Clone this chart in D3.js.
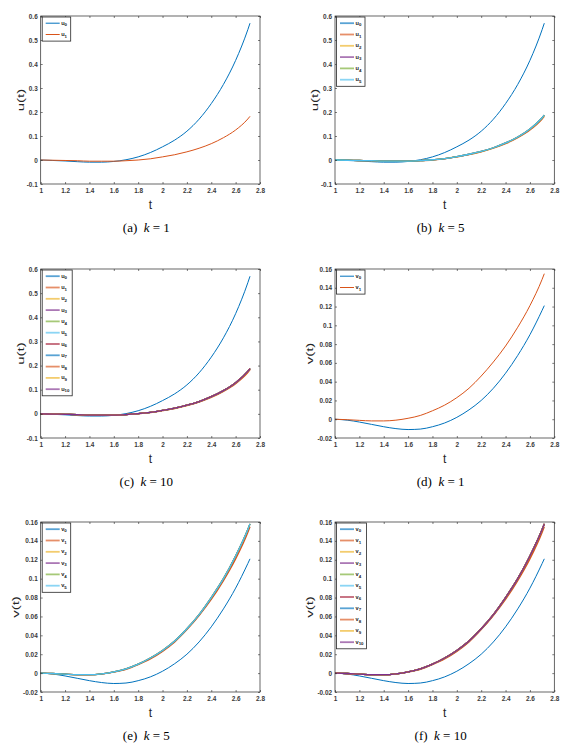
<!DOCTYPE html>
<html>
<head>
<meta charset="utf-8">
<script src="https://cdn.jsdelivr.net/npm/d3@7"></script>
<style>
  body { margin: 0; background: #fff; }
  svg { display: block; }
  .tick text { font-family: "Liberation Sans", Arial, sans-serif; font-size: 6.4px; font-weight: bold; fill: #3a3a3a; }
  .tick line { stroke: #262626; stroke-width: 0.6; }
  .lab { font-family: "Liberation Sans", Arial, sans-serif; font-size: 12px; fill: #262626; }
  .ylab { font-family: "Liberation Sans", Arial, sans-serif; font-size: 15px; fill: #262626; }
  .cap { font-family: "Liberation Serif", "DejaVu Serif", serif; font-size: 13px; fill: #000; }
  .leg { font-family: "Liberation Sans", Arial, sans-serif; font-size: 5.6px; font-weight: bold; fill: #222; }
</style>
</head>
<body>
<svg id="fig" width="569" height="751"></svg>
<script>
// t grid (1 .. e)
const T = [1.0, 1.1, 1.2, 1.3, 1.4, 1.5, 1.6, 1.7, 1.8, 1.9, 2.0, 2.1, 2.2, 2.3, 2.4, 2.5, 2.6, 2.7, 2.718];

// u iterates
const u0 = [0, -0.002, -0.004, -0.007, -0.009, -0.009, -0.006, 0.001, 0.013, 0.031, 0.055, 0.083, 0.120, 0.170, 0.235, 0.315, 0.415, 0.543, 0.570];
const u1 = [0, -0.001, -0.002, -0.003, -0.005, -0.005, -0.005, -0.003, 0.000, 0.005, 0.013, 0.022, 0.034, 0.049, 0.068, 0.093, 0.125, 0.171, 0.182];
const u2 = [0, -0.001, -0.002, -0.003, -0.005, -0.005, -0.005, -0.003, 0.001, 0.006, 0.014, 0.023, 0.035, 0.050, 0.070, 0.095, 0.128, 0.174, 0.185];
const uK = [0, -0.001, -0.002, -0.003, -0.005, -0.005, -0.005, -0.003, 0.001, 0.006, 0.014, 0.024, 0.036, 0.051, 0.071, 0.096, 0.129, 0.176, 0.187];
const U_SERIES = [u0, u1, u2, uK, uK, uK, uK, uK, uK, uK, uK];

// v iterates
const v0 = [0, -0.001, -0.003, -0.0055, -0.008, -0.010, -0.011, -0.0105, -0.008, -0.004, 0.002, 0.010, 0.020, 0.033, 0.049, 0.068, 0.090, 0.116, 0.121];
const v1 = [0, -0.0005, -0.0012, -0.0018, -0.0018, -0.001, 0.001, 0.004, 0.009, 0.015, 0.023, 0.033, 0.046, 0.061, 0.078, 0.098, 0.121, 0.149, 0.155];
const vK = [0, -0.0004, -0.0011, -0.0017, -0.0017, -0.0008, 0.0013, 0.0045, 0.0095, 0.016, 0.024, 0.034, 0.047, 0.062, 0.080, 0.100, 0.124, 0.152, 0.158];
const V_SERIES = [v0, v1, vK, vK, vK, vK, vK, vK, vK, vK, vK];

const T_TICKS = [1, 1.2, 1.4, 1.6, 1.8, 2, 2.2, 2.4, 2.6, 2.8];
const U_TICKS = [-0.1, 0, 0.1, 0.2, 0.3, 0.4, 0.5, 0.6];
const V_TICKS = [-0.02, 0, 0.02, 0.04, 0.06, 0.08, 0.1, 0.12, 0.14, 0.16];

const PANELS = [
  { tag: "(a)", k: 1, name: "u" },
  { tag: "(b)", k: 5, name: "u" },
  { tag: "(c)", k: 10, name: "u" },
  { tag: "(d)", k: 1, name: "v" },
  { tag: "(e)", k: 5, name: "v" },
  { tag: "(f)", k: 10, name: "v" },
];

const COLORS = ["#0072BD", "#D95319", "#EDB120", "#7E2F8E", "#77AC30", "#4DBEEE", "#A2142F"];

const svg = d3.select("#fig");
const fmt = d => String(+d.toFixed(2));

const colX = [40.7, 335];
const rowY = [[16, 184], [269, 438], [522, 692]];
const plotW = 219.3;

PANELS.forEach((p, i) => {
  const left = colX[i % 2];
  const [top, bottom] = rowY[Math.floor(i / 2)];
  const series = p.name === "u" ? U_SERIES : V_SERIES;
  const yTicks = p.name === "u" ? U_TICKS : V_TICKS;

  const x = d3.scaleLinear().domain([1, 2.8]).range([left, left + plotW]);
  const y = d3.scaleLinear().domain(d3.extent(yTicks)).range([bottom, top]);

  const g = svg.append("g");

  // lines
  const line = d3.line()
    .x((d, j) => x(T[j]))
    .y(d => y(d))
    .curve(d3.curveMonotoneX);

  const shown = series.slice(0, p.k + 1);
  g.selectAll("path.series")
    .data(shown)
    .enter()
    .append("path")
    .attr("class", "series")
    .attr("fill", "none")
    .attr("stroke", (d, j) => COLORS[j % 7])
    .attr("stroke-width", (d, j) => (j === 0 || p.k === 1) ? 1 : 1.3)
    .attr("d", line);

  // axes, ticks pointing inwards
  g.append("g")
    .attr("transform", `translate(0,${bottom})`)
    .call(d3.axisBottom(x).tickValues(T_TICKS).tickSize(-2).tickPadding(4).tickFormat(fmt))
    .call(a => a.select(".domain").remove());
  g.append("g")
    .attr("transform", `translate(0,${top})`)
    .call(d3.axisTop(x).tickValues(T_TICKS).tickSize(-2).tickFormat(""))
    .call(a => a.select(".domain").remove());
  g.append("g")
    .attr("transform", `translate(${left},0)`)
    .call(d3.axisLeft(y).tickValues(yTicks).tickSize(-2).tickPadding(3).tickFormat(fmt))
    .call(a => a.select(".domain").remove());
  g.append("g")
    .attr("transform", `translate(${left + plotW},0)`)
    .call(d3.axisRight(y).tickValues(yTicks).tickSize(-2).tickFormat(""))
    .call(a => a.select(".domain").remove());

  g.append("rect")
    .attr("x", left).attr("y", top)
    .attr("width", plotW).attr("height", bottom - top)
    .attr("fill", "none").attr("stroke", "#262626").attr("stroke-width", 0.7);

  // axis labels
  g.append("text").attr("class", "lab")
    .attr("x", left + plotW / 2).attr("y", bottom + 25)
    .attr("text-anchor", "middle").text("t");
  const ylx = p.name === "u" ? left - 20 : left - 25;
  g.append("text").attr("class", "ylab")
    .attr("transform", `translate(${ylx},${(top + bottom) / 2}) scale(0.62,1) rotate(-90)`)
    .attr("text-anchor", "middle").attr("dy", "0.35em").text(`${p.name}(t)`);

  // caption
  const cap = g.append("text").attr("class", "cap")
    .attr("x", left + plotW / 2 - 4).attr("y", bottom + 48)
    .attr("text-anchor", "middle")
    .attr("xml:space", "preserve");
  cap.append("tspan").text(p.tag + "  ");
  cap.append("tspan").attr("font-style", "italic").text("k");
  cap.append("tspan").text(" = " + p.k);

  // legend
  const n = shown.length;
  const rowH = 11.3;
  const lx = left + 1.5, ly = top + 1;
  const lw = p.k === 10 ? 30 : 28.5;
  const leg = g.append("g");
  leg.append("rect")
    .attr("x", lx).attr("y", ly)
    .attr("width", lw).attr("height", n * rowH + 1.5)
    .attr("fill", "#fff").attr("stroke", "#262626").attr("stroke-width", 0.8);
  const items = leg.selectAll("g.item").data(shown).enter().append("g")
    .attr("transform", (d, j) => `translate(${lx},${ly + 6.2 + j * rowH})`);
  items.append("line")
    .attr("x1", 3.5).attr("x2", 17.5)
    .attr("stroke", (d, j) => COLORS[j % 7])
    .attr("stroke-width", p.k === 1 ? 1 : 1.8)
    .attr("stroke-opacity", p.k === 1 ? 1 : 0.65);
  const lt = items.append("text").attr("class", "leg")
    .attr("x", 19).attr("y", 1.5);
  lt.append("tspan").text(p.name);
  lt.append("tspan").attr("dy", 1.6).attr("font-size", "4.4px").text((d, j) => j);
});
</script>
</body>
</html>
